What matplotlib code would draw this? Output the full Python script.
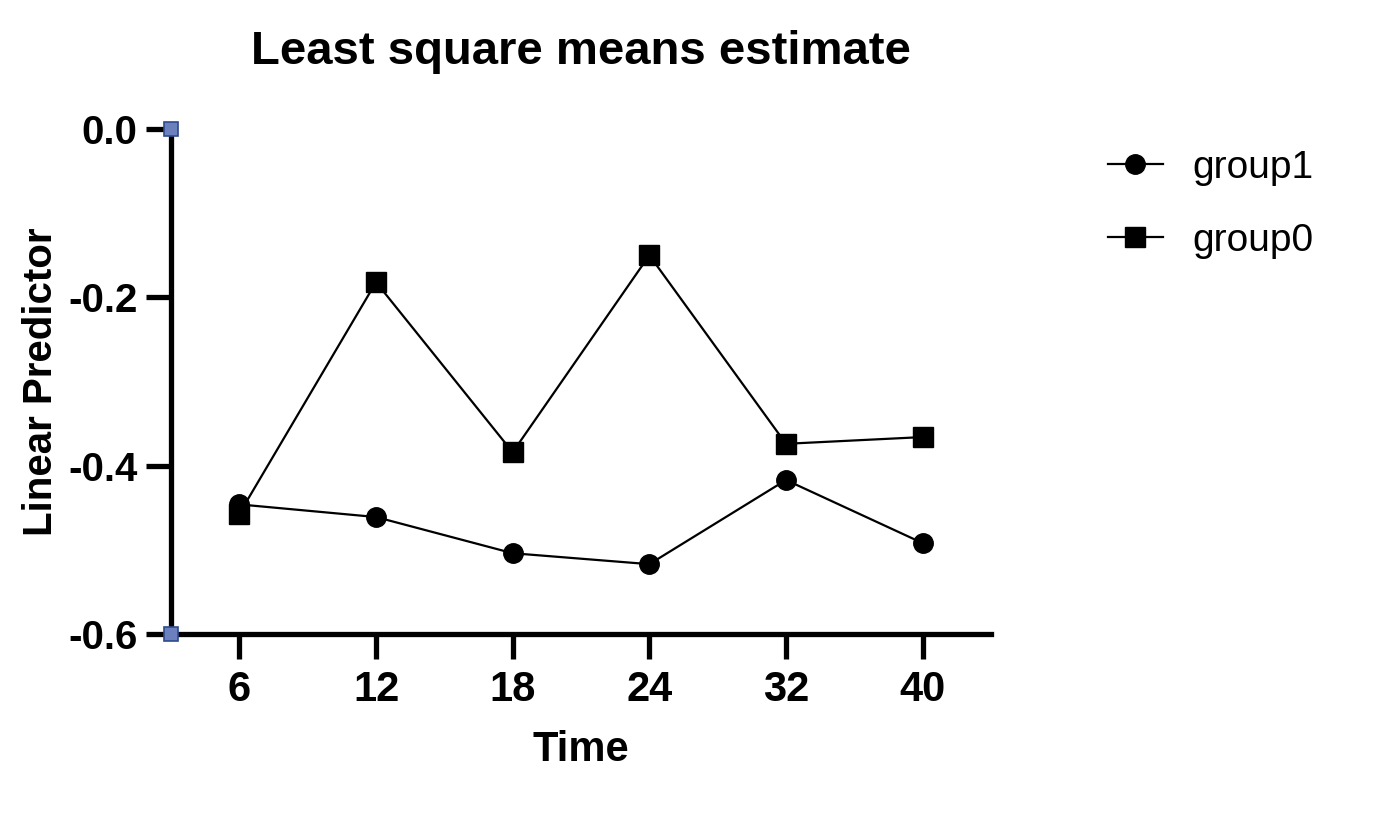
import matplotlib

matplotlib.use("Agg")
import matplotlib.pyplot as plt
import numpy as np

plt.rcParams["font.family"] = ["Liberation Sans", "DejaVu Sans"]
plt.rcParams["axes.unicode_minus"] = False

# values
time_labels = ["6", "12", "18", "24", "32", "40"]
group1 = [-0.446, -0.461, -0.504, -0.517, -0.417, -0.492]
group0 = [-0.457, -0.182, -0.384, -0.150, -0.374, -0.366]
y_ticks = [-0.6, -0.4, -0.2, 0.0]

fig = plt.figure(figsize=(13.76, 8.16), dpi=100)
ax = fig.add_axes([0.1243, 0.2230, 0.7202 - 0.1243, 0.8419 - 0.2230])

x = np.arange(len(time_labels))
ax.plot(x, group0, color="black", lw=1.6, marker="s", ms=15, label="group0", zorder=3)
ax.plot(x, group1, color="black", lw=1.6, marker="o", ms=14, label="group1", zorder=4)

ax.set_xlim(-0.5, 5.5)
ax.set_ylim(y_ticks[0], y_ticks[-1])
ax.set_xticks(x)
ax.set_xticklabels(time_labels)
ax.set_yticks(y_ticks)
ax.set_yticklabels([f"{v:.1f}" for v in y_ticks])

for side in ("top", "right"):
    ax.spines[side].set_visible(False)
for side in ("left", "bottom"):
    ax.spines[side].set_linewidth(3.8)
    ax.spines[side].set_capstyle("projecting")

ax.tick_params(axis="both", length=18, width=3.8, labelsize=29, pad=6)
ax.tick_params(axis="x", labelsize=30, pad=8)
for lab in ax.get_xticklabels() + ax.get_yticklabels():
    lab.set_fontweight("bold")

ax.set_xlabel("Time", fontsize=30, fontweight="bold", labelpad=14)
ax.set_ylabel("Linear Predictor", fontsize=29, fontweight="bold", labelpad=6)
ax.set_title("Least square means estimate", fontsize=34, fontweight="bold", pad=47)

# selection handles at the y-axis ends
x0 = ax.get_xlim()[0]
ax.plot([x0, x0], [y_ticks[0], y_ticks[-1]], ls="none", marker="s", ms=10,
        mfc="#6b80bd", mec="#2e4a8c", mew=1.2, clip_on=False, zorder=6)

handles, labels = ax.get_legend_handles_labels()
ax.legend(handles[::-1], labels[::-1], loc="upper left", bbox_to_anchor=(1.124, 0.99),
          frameon=False, fontsize=28, handlelength=1.4, handletextpad=0.77,
          labelspacing=0.95, borderaxespad=0.0)

fig.savefig("out.png", dpi=100)
